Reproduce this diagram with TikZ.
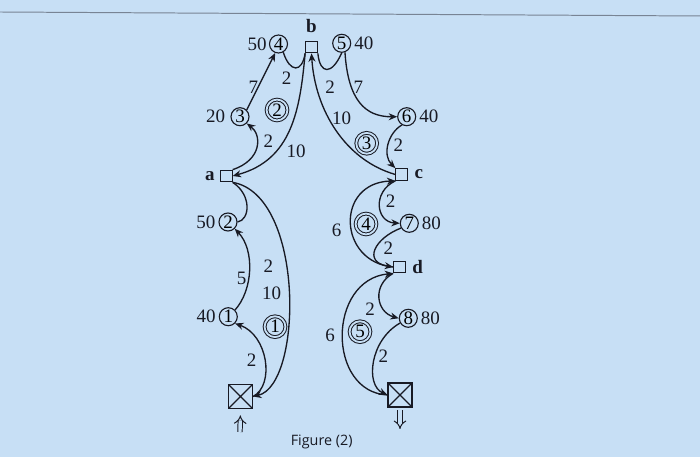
\documentclass[tikz,border=0pt]{standalone}
\usepackage{fontspec}
\setmainfont{Liberation Serif}
\newfontfamily\figfont{Open Sans}
\usetikzlibrary{arrows.meta}

\definecolor{screen}{RGB}{199,223,245}
\definecolor{ink}{RGB}{24,26,36}
\definecolor{rule}{RGB}{120,132,148}

\tikzset{
    num/.style={font=\fontsize{13.5}{15}\selectfont,text=ink,inner sep=1.5pt},
    tag/.style={font=\fontsize{13.5}{15}\selectfont\bfseries,text=ink,inner sep=1.5pt},
    act/.style={circle,draw=ink,line width=0.8pt,minimum size=0.45cm,inner sep=0pt,font=\fontsize{13.5}{15}\selectfont},
    cut/.style={circle,draw=ink,line width=0.7pt,double=screen,double distance=1.3pt,minimum size=0.52cm,inner sep=0pt,font=\fontsize{13.5}{15}\selectfont},
    evt/.style={rectangle,draw=ink,line width=0.8pt,minimum size=0.29cm,inner sep=0pt},
    term/.style={rectangle,draw=ink,line width=0.8pt,minimum size=0.6cm,inner sep=0pt,
        path picture={\draw[ink,line width=0.8pt] (path picture bounding box.north west) -- (path picture bounding box.south east)
            (path picture bounding box.south west) -- (path picture bounding box.north east);}},
    arc/.style={draw=ink,line width=0.95pt},
    flow/.style={arc,-{Stealth[length=6pt,width=5pt]}},
    port/.style={draw=ink,line width=0.7pt,double=screen,double distance=2.4pt,-{Implies[length=4pt]}},
}

\begin{document}
\begin{tikzpicture}[x=0.025cm,y=-0.025cm]
    % 背景
    \useasboundingbox (0,0) rectangle (700,457);
    \fill[screen] (0,0) rectangle (700,457);
    \draw[rule,line width=0.7pt] (0,12) -- (700,16);

    % 事件节点
    \node [evt,label={[tag,label distance=4pt]above:b}] (b) at (311.5,47) {};
    \node [evt,label={[tag,label distance=2pt]left:a}] (a) at (226.3,176) {};
    \node [evt,label={[tag,label distance=3pt]right:c}] (c) at (401.7,174.5) {};
    \node [evt,label={[tag,label distance=3pt]right:d}] (d) at (399.5,267) {};
    \node [term] (boxL) at (240.5,396.5) {};
    \node [term] (boxR) at (400,395) {};

    % 工序节点
    \node [act,label={[num,label distance=0pt]left:50}] (c4) at (278.5,44) {4};
    \node [act,label={[num,label distance=0.5pt]right:40}] (c5) at (341.7,43.3) {5};
    \node [act,label={[num,label distance=2pt]left:20}] (c3) at (240,116.7) {3};
    \node [act,label={[num,label distance=0.5pt]right:40}] (c6) at (406.7,116.7) {6};
    \node [act,label={[num,label distance=0.5pt]left:50}] (c2) at (228,222) {2};
    \node [act,label={[num,label distance=0.5pt]right:80}] (c7) at (409.3,223.3) {7};
    \node [act,label={[num,label distance=0.5pt]left:40}] (c1) at (228.3,316.7) {1};
    \node [act,label={[num,label distance=0.5pt]right:80}] (c8) at (408.3,318.3) {8};

    % 割集编号
    \node [cut] (k2) at (277,110) {2};
    \node [cut] (k3) at (366.7,143.3) {3};
    \node [cut] (k4) at (366,224) {4};
    \node [cut] (k1) at (275,326.7) {1};
    \node [cut] (k5) at (360,331.7) {5};

    % 左侧弧
    \draw [flow] (b.south west) .. controls (300,110) and (292,160) .. (a.east);
    \draw [flow] (a.north east) .. controls (262,160) and (262,135) .. (c3.south east);
    \draw [flow] (c3.north east) -- (c4.-110);
    \draw [arc] (c4.-60) .. controls (290,73) and (302,73) .. (b.south west);
    \draw [flow] (a.south east) .. controls (305,195) and (303,385) .. (boxL.east);
    \draw [flow] (boxL.east) .. controls (275,385) and (268,335) .. (c1.south east);
    \draw [flow] (c1.north east) .. controls (253,290) and (255,250) .. (c2.south east);
    \draw [arc] (c2.east) .. controls (250,220) and (252,195) .. (a.south east);

    % 右侧弧
    \draw [arc] (b.south east) .. controls (320,75) and (332,75) .. (c5.south);
    \draw [flow] (c.west) .. controls (345,160) and (315,110) .. (b.south);
    \draw [flow] (c5.-70) .. controls (348,100) and (365,117) .. (c6.west);
    \draw [flow] (c6.-120) .. controls (388,133) and (382,155) .. (c.north west);
    \draw [flow] (c.south west) .. controls (372,192) and (376,222) .. (c7.west);
    \draw [flow] (c7.-150) .. controls (375,238) and (362,262) .. (d.west);
    \draw [flow] (d.west) .. controls (338,262) and (335,183) .. (c.south west);
    \draw [flow] (d.south west) .. controls (372,285) and (376,312) .. (c8.west);
    \draw [flow] (c8.-150) .. controls (370,340) and (365,385) .. (boxR.west);
    \draw [flow] (boxR.west) .. controls (327,392) and (327,280) .. (d.south west);

    % 输入输出
    \coordinate (inL) at (240,432);
    \coordinate (outR) at (400,429);
    \draw [port,shorten >=4.5pt] (inL) -- (boxL.south);
    \draw [port,shorten <=2pt] (boxR.south) -- (outR);

    % 弧上数字
    \node [num] (w1) at (253.3,87.3) {7};
    \node [num] (w2) at (286.7,78.3) {2};
    \node [num] (w3) at (330,87.3) {2};
    \node [num] (w4) at (358.3,87.3) {7};
    \node [num] (w5) at (341.7,118.3) {10};
    \node [num] (w6) at (268.3,141.7) {2};
    \node [num] (w7) at (296,151.7) {10};
    \node [num] (w8) at (398.3,145) {2};
    \node [num] (w9) at (390.7,201.7) {2};
    \node [num] (w10) at (388.3,248.3) {2};
    \node [num] (w11) at (336.7,230) {6};
    \node [num] (w12) at (268.3,266.7) {2};
    \node [num] (w13) at (271.7,293.3) {10};
    \node [num] (w14) at (241.5,278.3) {5};
    \node [num] (w15) at (251.7,360) {2};
    \node [num] (w16) at (370,309.3) {2};
    \node [num] (w17) at (383.3,356.7) {2};
    \node [num] (w18) at (330,335) {6};

    % 图题
    \node [font=\figfont\fontsize{10.2}{12}\selectfont,text=ink] (fig) at (321.7,441.7) {Figure (2)};
\end{tikzpicture}
\end{document}
